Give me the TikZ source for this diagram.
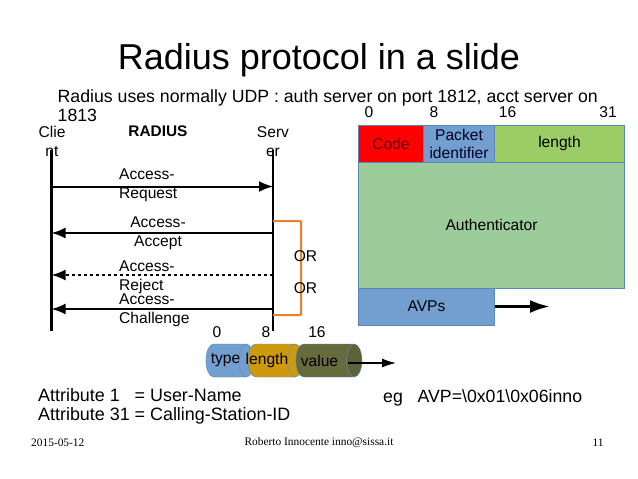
\documentclass[tikz,border=0pt]{standalone}
\usepackage{fontspec}
\setmainfont{Liberation Sans}
\newfontfamily\footfont{Liberation Serif}
\usetikzlibrary{shapes.geometric,arrows.meta}
\definecolor{redfill}{HTML}{FF0000}
\definecolor{bluefill}{HTML}{729FCF}
\definecolor{limefill}{HTML}{9CCC66}
\definecolor{mintfill}{HTML}{9CCC99}
\definecolor{goldfill}{HTML}{CC9A0C}
\definecolor{olivefill}{HTML}{666B3E}
\definecolor{boxline}{HTML}{5B87B5}
\definecolor{orangeline}{HTML}{ED7D31}

\begin{document}
\begin{tikzpicture}[
x=1pt, y=-1pt,
plain/.style={inner sep=0pt, align=center, font=\fontsize{17.7}{19}\selectfont},
small/.style={inner sep=0pt, align=center, font=\fontsize{15.6}{18.5}\selectfont},
fieldbox/.style={draw=boxline, thin, inner sep=0pt, align=center, font=\fontsize{15.6}{18}\selectfont},
fieldcyl/.style={cylinder, draw=boxline, thin, shape aspect=1.15, inner sep=0pt, minimum height=#1, minimum width=33pt,
  cylinder uses custom fill, font=\fontsize{15.6}{18}\selectfont},
foot/.style={inner sep=0pt, font=\fontsize{11.4}{12}\selectfont\footfont},
lifeline/.style={line width=2.2pt},
msg/.style={line width=2pt, -{Latex[length=14pt,width=11pt]}},
]
\useasboundingbox (0,0) rectangle (638,479);
\path[fill=white] (0,0) rectangle (638,479);

\node[inner sep=0pt, font=\fontsize{36}{40}\selectfont] (title) at (319,60.5) {Radius protocol in a slide};
\node[plain, anchor=west] (line1) at (57.5,98) {Radius uses normally UDP : auth server on port 1812, acct server on};
\node[plain, anchor=west] (line2) at (57.5,115.5) {1813};

% sequence part
\node[small] (client) at (52,141.5) {Clie\\nt};
\node[small, font=\fontsize{15.4}{16}\bfseries\selectfont] (radius) at (158,131) {RADIUS};
\node[small] (server) at (273,141.5) {Serv\\er};

\coordinate (clienttop) at (51.5,150);
\coordinate (clientend) at (51.5,331);
\coordinate (servertop) at (273,150);
\coordinate (serverend) at (273,331);
\draw[lifeline] (clienttop) -- (clientend);
\draw[lifeline] (servertop) -- (serverend);

\coordinate (c1) at (51.5,186.5);
\coordinate (s1) at (273,186.5);
\coordinate (c2) at (51.5,233);
\coordinate (s2) at (273,233);
\coordinate (c3) at (51.5,275);
\coordinate (s3) at (273,275);
\coordinate (c4) at (51.5,309);
\coordinate (s4) at (273,309);
\draw[msg] (c1) -- (s1);
\draw[msg] (s2) -- (c2);
\draw[msg, dashed] (s3) -- (c3);
\draw[msg] (s4) -- (c4);

\node[small, align=left, anchor=west] (req) at (119,185.5) {Access-\\Request};
\node[small] (acc) at (158,233.5) {Access-\\Accept};
\node[small, align=left, anchor=west] (rej) at (119,277.5) {Access-\\Reject};
\node[small, align=left, anchor=west] (chal) at (119,310.5) {Access-\\Challenge};

\coordinate (ortop) at (273,221);
\coordinate (orbot) at (273,315);
\draw[orangeline, line width=2pt, rounded corners=1pt] (ortop) -- (301,221) -- (301,315) -- (orbot);
\node[small] (or1) at (305.5,256) {OR};
\node[small] (or2) at (305.5,288) {OR};

% packet part
\node[small] (bit0) at (369,112) {0};
\node[small] (bit8) at (434,112) {8};
\node[small] (bit16) at (507.5,112) {16};
\node[small] (bit31) at (608,112) {31};

\node[fieldbox, fill=redfill, text=black!60!red, minimum width=65pt, minimum height=37pt] (code) at (391,143.5) {Code};
\node[fieldbox, fill=bluefill, minimum width=71pt, minimum height=37pt, text=black!85!blue] (ident) at (459,143.5) {Packet\\identifier};
\node[fieldbox, fill=limefill, minimum width=130pt, minimum height=37pt] (length) at (559.5,143.5) {length};
\node[fieldbox, fill=mintfill, minimum width=266pt, minimum height=126pt] (auth) at (491.5,225) {Authenticator};
\node[fieldbox, fill=bluefill, minimum width=136pt, minimum height=37pt] (avps) at (426.5,306.5) {AVPs};
\coordinate (avpsend) at (550,306.5);
\draw[line width=3pt, -{Latex[length=20pt,width=13pt]}] (avps.east) -- (avpsend);

% attribute part
\node[small] (att0) at (217,332) {0};
\node[small] (att8) at (266,332) {8};
\node[small] (att16) at (317,332) {16};

\node[fieldcyl=48pt, cylinder body fill=bluefill, cylinder end fill=bluefill] (type) at (226,360.5) {\vphantom{type}};
\node[fieldcyl=55pt, cylinder body fill=goldfill, cylinder end fill=goldfill] (lenfield) at (271.5,360.5) {\vphantom{type}};
\node[fieldcyl=66pt, cylinder body fill=olivefill, cylinder end fill=olivefill!92!black] (value) at (325,360.5) {\vphantom{type}};
\node[small] (typetext) at (225.5,360.5) {type};
\node[small] (lentext) at (267,360.5) {length};
\node[small] (valuetext) at (319.5,360.5) {value};
\coordinate (valuestart) at (348,363);
\coordinate (valueend) at (396,363);
\draw[line width=1.4pt, -{Latex[length=14pt,width=9pt]}] (valuestart) -- (valueend);

\node[small, align=left, anchor=north west, font=\fontsize{17.9}{19.5}\selectfont] (attr) at (38,388) {Attribute 1\ \ \ = User-Name\\Attribute 31 = Calling-Station-ID};
\node[plain, anchor=west] (eg) at (383,397.5) {eg\ \ \ AVP=\textbackslash 0x01\textbackslash 0x06inno};

% footer
\node[foot, anchor=west] (date) at (31,442.5) {2015-05-12};
\node[foot] (who) at (319,442.5) {Roberto Innocente inno@sissa.it};
\node[foot] (page) at (598,442.5) {11};
\end{tikzpicture}
\end{document}
